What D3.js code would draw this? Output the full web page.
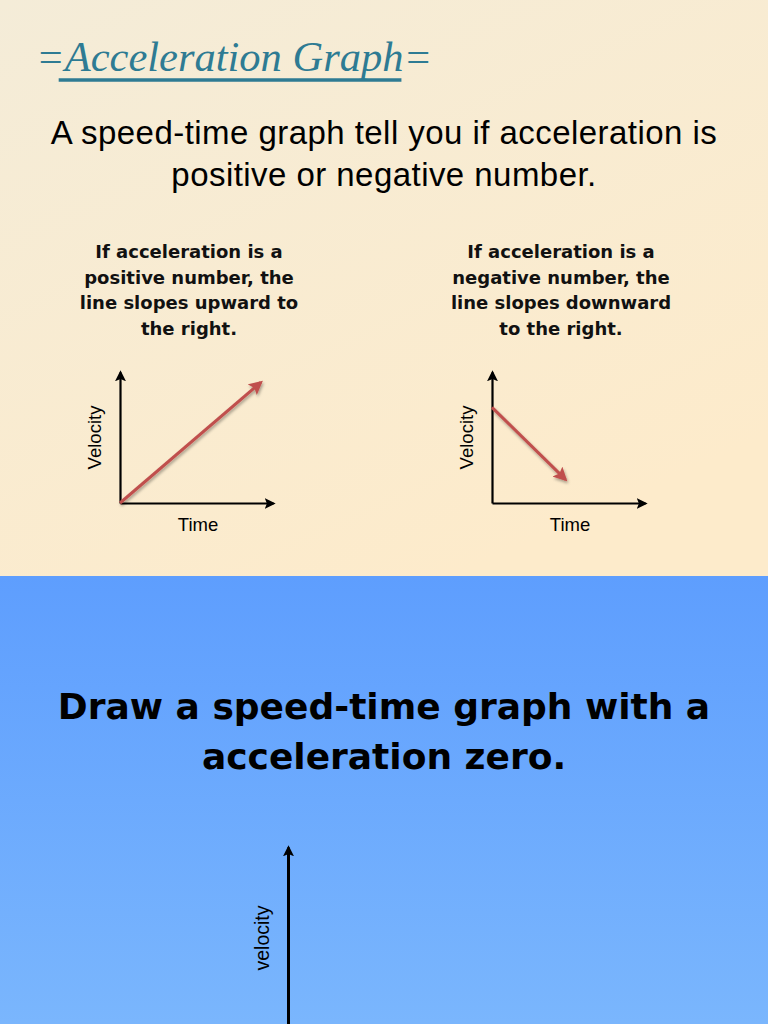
<!DOCTYPE html>
<html>
<head>
<meta charset="utf-8">
<script src="https://cdn.jsdelivr.net/npm/d3@7"></script>
<style>
  html, body { margin: 0; padding: 0; }
  svg { display: block; }
</style>
</head>
<body>
<svg id="chart" width="768" height="1024"></svg>
<script>
// ---- data ----
const titleParts = ["=", "Acceleration Graph", "="];
const introLines = ["A speed-time graph tell you if acceleration is", "positive or negative number."];
const posNote = ["If acceleration is a", "positive number, the", "line slopes upward to", "the right."];
const negNote = ["If acceleration is a", "negative number, the", "line slopes downward", "to the right."];
const taskLines = ["Draw a speed-time graph with a", "acceleration zero."];

const timeDomain = [0, 10];
const velDomain = [0, 10];
// [time, velocity] start and end of each red arrow
const posLine = [[0, 0], [9.2, 9.2]];
const negLine = [[0, 7.3], [4.8, 1.8]];

const svg = d3.select("#chart");
const defs = svg.append("defs");

// backgrounds
const cream = defs.append("linearGradient").attr("id", "cream")
    .attr("x1", 0).attr("y1", 0).attr("x2", 0.6).attr("y2", 1);
cream.append("stop").attr("offset", 0).attr("stop-color", "#f4ecd8");
cream.append("stop").attr("offset", 1).attr("stop-color", "#fdebcb");

const blue = defs.append("linearGradient").attr("id", "blue")
    .attr("x1", 0).attr("y1", 0).attr("x2", 0).attr("y2", 1);
blue.append("stop").attr("offset", 0).attr("stop-color", "#5e9efe");
blue.append("stop").attr("offset", 1).attr("stop-color", "#7ab6fd");

svg.append("rect").attr("width", 768).attr("height", 576).attr("fill", "url(#cream)");
svg.append("rect").attr("y", 576).attr("width", 768).attr("height", 448).attr("fill", "url(#blue)");

// markers
function arrowMarker(id, color, size){
    defs.append("marker").attr("id", id)
        .attr("viewBox", "0 0 10 10").attr("refX", 8).attr("refY", 5)
        .attr("markerWidth", size).attr("markerHeight", size)
        .attr("markerUnits", "userSpaceOnUse")
        .attr("orient", "auto")
        .append("path").attr("d", "M0,0L10,5L0,10L2,5Z").attr("fill", color);
}
arrowMarker("blackArrow", "#000", 11);
arrowMarker("redArrow", "#c0504d", 14);

const shadow = defs.append("filter").attr("id", "shadow")
    .attr("x", "-20%").attr("y", "-20%").attr("width", "140%").attr("height", "140%");
shadow.append("feDropShadow").attr("dx", 1).attr("dy", 2).attr("stdDeviation", 1.5)
    .attr("flood-color", "#000").attr("flood-opacity", 0.35);

// ---- title ----
const title = svg.append("text")
    .attr("x", 36).attr("y", 71)
    .style("font-family", "'Liberation Serif', serif")
    .style("font-style", "italic")
    .style("font-size", "42.5px")
    .attr("fill", "#2e7b93");
title.selectAll("tspan").data(titleParts).join("tspan").text(d => d);
// underline beneath the middle part
{
    const n = title.node();
    const start = n.getStartPositionOfChar(1);
    const end = n.getEndPositionOfChar(titleParts[0].length + titleParts[1].length - 1);
    svg.append("line")
        .attr("x1", start.x - 6).attr("x2", end.x - 2)
        .attr("y1", 80).attr("y2", 80)
        .attr("stroke", "#2e7b93").attr("stroke-width", 3.5);
}

// ---- intro ----
svg.append("g").selectAll("text").data(introLines).join("text")
    .attr("x", 384).attr("y", (d, i) => 144 + i * 42)
    .attr("text-anchor", "middle")
    .style("font-family", "'Liberation Sans', Arial, sans-serif")
    .style("font-size", "33px")
    .style("letter-spacing", "0.45px")
    .attr("fill", "#000")
    .text(d => d);

// ---- notes ----
function note(lines, cx){
    svg.append("g").selectAll("text").data(lines).join("text")
        .attr("x", cx).attr("y", (d, i) => 258 + i * 25.7)
        .attr("text-anchor", "middle")
        .style("font-family", "'DejaVu Sans', sans-serif")
        .style("font-weight", "bold")
        .style("font-size", "18px")
        .attr("fill", "#111")
        .text(d => d);
}
note(posNote, 189);
note(negNote, 561);

// ---- small graphs ----
function miniGraph(x0, pts){
    const x = d3.scaleLinear().domain(timeDomain).range([x0, x0 + 153]);
    const y = d3.scaleLinear().domain(velDomain).range([503, 372]);
    const g = svg.append("g");

    g.append("g").attr("transform", `translate(0,${y(0)})`)
        .call(d3.axisBottom(x).ticks(0).tickSizeOuter(0))
        .call(a => a.select(".domain").attr("stroke-width", 2.2).attr("marker-end", "url(#blackArrow)"));
    g.append("g").attr("transform", `translate(${x(0)},0)`)
        .call(d3.axisLeft(y).ticks(0).tickSizeOuter(0))
        .call(a => a.select(".domain").attr("stroke-width", 2.2).attr("marker-end", "url(#blackArrow)"));

    g.append("path").datum(pts)
        .attr("d", d3.line().x(d => x(d[0])).y(d => y(d[1])))
        .attr("fill", "none").attr("stroke", "#c0504d").attr("stroke-width", 3)
        .attr("marker-end", "url(#redArrow)")
        .attr("filter", "url(#shadow)");

    g.append("text")
        .attr("transform", `translate(${x0 - 19},${(y(0) + y(10)) / 2}) rotate(-90)`)
        .attr("text-anchor", "middle")
        .style("font-family", "'Liberation Sans', Arial, sans-serif")
        .style("font-size", "18.5px")
        .text("Velocity");
    g.append("text")
        .attr("x", x(5.1)).attr("y", 531)
        .attr("text-anchor", "middle")
        .style("font-family", "'Liberation Sans', Arial, sans-serif")
        .style("font-size", "18.5px")
        .text("Time");
}
miniGraph(120, posLine);
miniGraph(492, negLine);

// ---- task ----
svg.append("g").selectAll("text").data(taskLines).join("text")
    .attr("x", 384).attr("y", (d, i) => 719 + i * 50)
    .attr("text-anchor", "middle")
    .style("font-family", "'DejaVu Sans', sans-serif")
    .style("font-weight", "bold")
    .style("font-size", "36px")
    .attr("fill", "#000")
    .text(d => d);

// ---- empty graph to draw on ----
{
    const y = d3.scaleLinear().domain(velDomain).range([1100, 847]);
    svg.append("g").attr("transform", "translate(288,0)")
        .call(d3.axisLeft(y).ticks(0).tickSizeOuter(0))
        .call(a => a.select(".domain").attr("stroke-width", 3).attr("marker-end", "url(#blackArrow)"));
    svg.append("text")
        .attr("transform", "translate(269,938) rotate(-90)")
        .attr("text-anchor", "middle")
        .style("font-family", "'Liberation Sans', Arial, sans-serif")
        .style("font-size", "19.5px")
        .text("velocity");
}
</script>
</body>
</html>
